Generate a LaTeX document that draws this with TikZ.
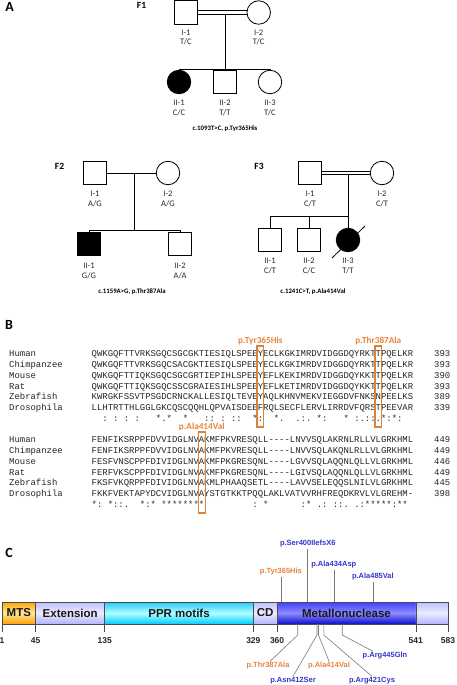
\documentclass[tikz,border=0pt]{standalone}
\usepackage{fontspec}
\setmainfont{Carlito}
\newfontfamily\arialfont{Liberation Sans}
\newfontfamily\monofont[Ligatures=TeXOff]{Liberation Mono}
\usetikzlibrary{positioning,calc}

\definecolor{mutorange}{HTML}{E8843A}
\definecolor{mutblue}{HTML}{3535CC}
\definecolor{boxorange}{HTML}{D98438}
\definecolor{stemgray}{HTML}{7A7A7A}
\definecolor{seqgray}{HTML}{262626}

\tikzset{
  male/.style={draw, rectangle, minimum size=23.5pt, inner sep=0pt, line width=0.8pt},
  female/.style={draw, circle, minimum size=23.5pt, inner sep=0pt, line width=0.8pt},
  affected/.style={fill=black},
  kin/.style={line width=0.8pt},
  plabel/.style={font=\fontsize{8.5}{9.5}\selectfont, align=center, inner sep=0pt, text=seqgray},
  pcaption/.style={font=\bfseries\fontsize{6.8}{8}\selectfont, inner sep=0pt},
  famlabel/.style={font=\bfseries\fontsize{9.5}{11}\selectfont, inner sep=0pt},
  panel/.style={font=\bfseries\fontsize{14}{16}\selectfont, inner sep=0pt},
  seq/.style={font=\monofont\fontsize{8.93}{10}\selectfont, inner sep=0pt, anchor=base west, text=seqgray},
  hlbox/.style={draw=boxorange, line width=1.1pt, inner sep=0pt},
  seqmut/.style={font=\bfseries\fontsize{9.2}{10}\selectfont, text=mutorange, inner sep=0.3pt},
  domainbox/.style={draw=black!70, line width=0.6pt},
  domlab/.style={font=\arialfont\bfseries\fontsize{11.5}{13}\selectfont, text=black!90, inner sep=0pt},
  numlab/.style={font=\arialfont\bfseries\fontsize{8.5}{10}\selectfont, text=black!85, inner sep=0pt},
  mutlab/.style={font=\arialfont\bfseries\fontsize{7.5}{9}\selectfont, inner sep=1pt},
  stem/.style={draw=stemgray, line width=0.6pt},
  tickline/.style={draw=black!70, line width=0.6pt},
  mtsfill/.style={top color=orange!70!yellow, bottom color=orange!75!yellow, middle color=yellow!55!orange!40!white},
  extfill/.style={top color=blue!25!white, bottom color=blue!30!white, middle color=blue!8!white},
  pprfill/.style={top color=cyan!75!blue!85!white, bottom color=cyan!80!blue, middle color=cyan!30!white},
  metfill/.style={top color=blue!75!white, bottom color=blue!80!black!95, middle color=blue!45!white}
}

\begin{document}
\begin{tikzpicture}[x=1pt,y=-1pt]
\fill[white] (0,0) rectangle (456,685);
\useasboundingbox (0,0) rectangle (456,685);

% A
\node[panel] (pa) at (9.5,6.5) {A};

% family 1
\node[famlabel] (f1) at (141.5,5.5) {F1};
\node[male] (f1i1) at (186,12.5) {};
\node[female] (f1i2) at (258.7,12.5) {};
\draw[kin] ([yshift=2pt]f1i1.east) -- ([yshift=2pt]f1i2.west);
\draw[kin] ([yshift=-2pt]f1i1.east) -- ([yshift=-2pt]f1i2.west);
\coordinate (f1m) at (225,14.5);
\coordinate (f1s) at (225,69);
\draw[kin] (f1m) -- (f1s);
\node[female, affected] (f1c1) at (179,82) {};
\node[male] (f1c2) at (225,82) {};
\node[female] (f1c3) at (270,82) {};
\draw[kin] (f1c1.north) -- (f1c1.north |- f1s) -- (f1c3.north |- f1s) -- (f1c3.north);
\draw[kin] (f1s) -- (f1c2.north);
\node[plabel, below=5pt of f1i1] (f1l1) {I-1\\T/C};
\node[plabel, below=5pt of f1i2] (f1l2) {I-2\\T/C};
\node[plabel, below=6pt of f1c1] (f1l3) {II-1\\C/C};
\node[plabel, below=6pt of f1c2] (f1l4) {II-2\\T/T};
\node[plabel, below=6pt of f1c3] (f1l5) {II-3\\T/C};
\node[pcaption] (f1cap) at (225,129) {c.1093T>C, p.Tyr365His};

% family 2
\node[famlabel] (f2) at (59.5,166) {F2};
\node[male] (f2i1) at (95,173) {};
\node[female] (f2i2) at (168,173) {};
\draw[kin] (f2i1.east) -- (f2i2.west);
\coordinate (f2m) at (134,173);
\coordinate (f2s) at (134,230);
\draw[kin] (f2m) -- (f2s);
\node[male, affected] (f2c1) at (89,244) {};
\node[male] (f2c2) at (180,244) {};
\draw[kin] (f2c1.north) -- (f2c1.north |- f2s) -- (f2c2.north |- f2s) -- (f2c2.north);
\node[plabel, below=6pt of f2i1] (f2l1) {I-1\\A/G};
\node[plabel, below=6pt of f2i2] (f2l2) {I-2\\A/G};
\node[plabel, below=7pt of f2c1] (f2l3) {II-1\\G/G};
\node[plabel, below=7pt of f2c2] (f2l4) {II-2\\A/A};
\node[pcaption] (f2cap) at (132,292) {c.1159A>G, p.Thr387Ala};

% family 3
\node[famlabel] (f3) at (259,166) {F3};
\node[male] (f3i1) at (310,173) {};
\node[female] (f3i2) at (382,173) {};
\draw[kin] ([yshift=1.7pt]f3i1.east) -- ([yshift=1.7pt]f3i2.west);
\draw[kin] ([yshift=-1.7pt]f3i1.east) -- ([yshift=-1.7pt]f3i2.west);
\coordinate (f3m) at (348,174.7);
\coordinate (f3s) at (348,216);
\draw[kin] (f3m) -- (f3s);
\node[male] (f3c1) at (270,240) {};
\node[male] (f3c2) at (309,240) {};
\node[female, affected] (f3c3) at (348,240) {};
\draw[kin] (f3c1.north) -- (f3c1.north |- f3s) -- (f3s) -- (f3c3.north);
\draw[kin] (f3c2.north |- f3s) -- (f3c2.north);
\draw[kin] ($(f3c3)+(-16,18)$) -- ($(f3c3)+(17,-14)$);
\node[plabel, below=6pt of f3i1] (f3l1) {I-1\\C/T};
\node[plabel, below=6pt of f3i2] (f3l2) {I-2\\C/T};
\node[plabel, below=6pt of f3c1] (f3l3) {II-1\\C/T};
\node[plabel, below=6pt of f3c2] (f3l4) {II-2\\C/C};
\node[plabel, below=6pt of f3c3] (f3l5) {II-3\\T/T};
\node[pcaption] (f3cap) at (313,292) {c.1241C>T, p.Ala414Val};

% B
\node[panel] (pb) at (9,324.5) {B};
\foreach \nm/\sq/\num [count=\i from 0] in {
  Human/QWKGQFTTVRKSGQCSGCGKTIESIQLSPEEYECLKGKIMRDVIDGGDQYRKTTPQELKR/393,
  Chimpanzee/QWKGQFTTVRKSGQCSACGKTIESIQLSPEEYECLKGKIMRDVIDGGDQYRKTTPQELKR/393,
  Mouse/QWKGQFTTIQKSGQCSGCGRTIEPIHLSPEEYEFLKEKIMRDVIDGGDQYKKTTPQELKR/390,
  Rat/QWKGQFTTIQKSGQCSSCGRAIESIHLSPEEYEFLKETIMRDVIDGGDQYKKTTPQELKR/393,
  Zebrafish/KWRGKFSSVTPSGDCRNCKALLESIQLTEVEYAQLKHNVMEKVIEGGDVFNKSNPEELKS/389,
  Drosophila/LLHTRTTHLGGLGKCQSCQQHLQPVAISDEEFRQLSECFLERVLIRRDVFQRSTPEEVAR/339}{
  \node[seq] (an\i) at (9,356.6+10.8*\i) {\nm};
  \node[seq] (as\i) at (91.5,356.6+10.8*\i) {\sq};
  \node[seq] (ae\i) at (434,356.6+10.8*\i) {\num};
}
\node[seq] (acons) at (91.5,421.4) {~~:~:~:~:~~~*.*~~*~~~::~:~::~~*:~~*.~~.:.~*:~~~*~:.::.*:*:};

\foreach \nm/\sq/\num [count=\i from 0] in {
  Human/FENFIKSRPPFDVVIDGLNVAKMFPKVRESQLL----LNVVSQLAKRNLRLLVLGRKHML/449,
  Chimpanzee/FENFIKSRPPFDVVIDGLNVAKMFPKVRESQLL----LNVVSQLAKQNLRLLVLGRKHML/449,
  Mouse/FESFVNSCPPFDIVIDGLNVAKMFPKGRESQNL----LGVVSQLAQQNLQLLVLGRKHML/446,
  Rat/FERFVKSCPPFDIVIDGLNVAKMFPKGRESQNL----LGIVSQLAQQNLQLLVLGRKHML/449,
  Zebrafish/FKSFVKQRPPFDIVIDGLNVAKMLPHAAQSETL----LAVVSELEQQSLNILVLGRKHML/445,
  Drosophila/FKKFVEKTAPYDCVIDGLNVAYSTGTKKTPQQLAKLVATVVRHFREQDKRVLVLGREHM-/398}{
  \node[seq] (bn\i) at (9,442.6+10.8*\i) {\nm};
  \node[seq] (bs\i) at (91.5,442.6+10.8*\i) {\sq};
  \node[seq] (be\i) at (434,442.6+10.8*\i) {\num};
}
\node[seq] (bcons) at (91.5,507.4) {*:~*::.~~*:*~********~~~~~~~~~:~*~~~~~~:*~.:~::.~.:*****:**};

\node[hlbox, minimum width=6.7pt, minimum height=81pt] (bx365) at (260.35,386.5) {};
\node[hlbox, minimum width=6.7pt, minimum height=81pt] (bx387) at (378.3,386.5) {};
\node[hlbox, minimum width=6.7pt, minimum height=81pt] (bx414) at (201.75,472.5) {};
\node[seqmut, above=0pt of bx365] (m365) {p.Tyr365His};
\node[seqmut, above=0pt of bx387] (m387) {p.Thr387Ala};
\node[seqmut, above=0pt of bx414] (m414) {p.Ala414Val};

% C
\node[panel] (pc) at (9,553) {C};
\foreach \a/\b/\lab/\dc [count=\i] in {1/45/MTS/mtsfill, 45/135/Extension/extfill,
  135/329/PPR motifs/pprfill, 329/360/CD/extfill, 360/541/Metallonuclease/metfill, 541/583//extfill}{
  \draw[domainbox, \dc] ({2+(\a-1)*0.7663},602) rectangle ({2+(\b-1)*0.7663},624);
  \node[domlab] (d\i) at ({2+(\a+\b-2)*0.7663/2},613) {\lab};
}
\foreach \p in {1,45,135,329,360,541,583}{
  \draw[tickline] ({2+(\p-1)*0.7663},624) -- ++(0,8);
  \node[numlab, anchor=north] (t\p) at ({2+(\p-1)*0.7663},637.5) {\p};
}

% mutations above
\foreach \p/\lab/\col/\y in {365/p.Tyr365His/mutorange/572, 400/p.Ser400IlefsX6/mutblue/544,
  434/p.Ala434Asp/mutblue/565, 485/p.Ala485Val/mutblue/577}{
  \coordinate (u\p) at ({2+(\p-1)*0.7663},602);
  \node[mutlab, text=\col] (lu\p) at ({2+(\p-1)*0.7663},\y) {\lab};
  \draw[stem] (lu\p.south) -- (u\p);
}
% mutations below
\foreach \p/\lab/\col/\lx/\ly/\dx in {387/p.Thr387Ala/mutorange/268/666/2, 412/p.Asn412Ser/mutblue/293/681/0,
  414/p.Ala414Val/mutorange/329/666/0, 421/p.Arg421Cys/mutblue/372/681/0, 445/p.Arg445Gln/mutblue/385/656/-12}{
  \coordinate (b\p) at ({2+(\p-1)*0.7663},624);
  \node[mutlab, text=\col] (lb\p) at (\lx,\ly) {\lab};
  \draw[stem] (b\p) -- ++(0,11) -- ([xshift=\dx pt]lb\p.north);
}
\end{tikzpicture}
\end{document}
